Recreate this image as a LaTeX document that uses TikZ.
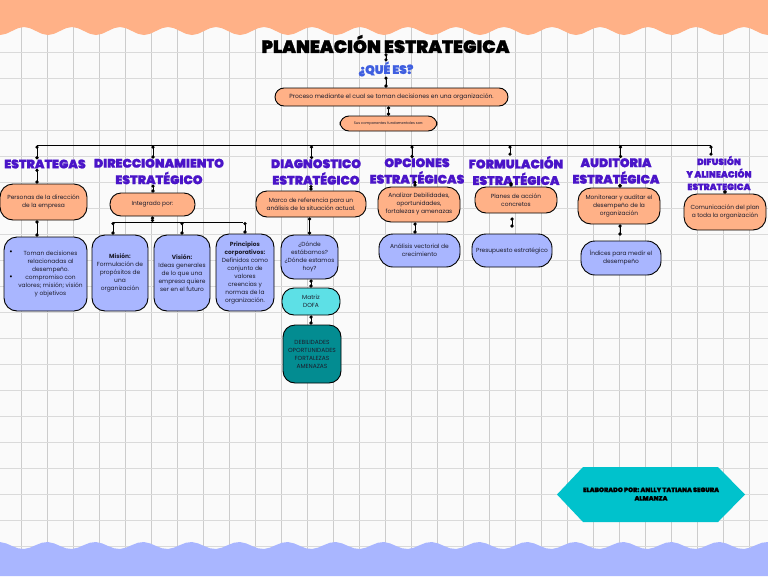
\documentclass[tikz,border=0pt]{standalone}
\usepackage{fontspec}
\usepackage{xcolor}
\setmainfont{Poppins}
\newfontfamily\heavyfont[FakeBold=1]{Poppins Black}
\usetikzlibrary{arrows.meta}

\begin{document}
\begin{tikzpicture}[x=1pt,y=-1pt,
  mynode/.style={draw=black,line width=.9,rounded corners=9,align=center,inner sep=0,font=\fontsize{5.9}{8}\selectfont,text=inkc},
  peachnode/.style={mynode,fill=peachc},
  lavnode/.style={mynode,fill=lavc,rounded corners=11},
  headnode/.style={align=center,inner sep=0,text=headc,font=\heavyfont\fontsize{12.4}{16.5}\selectfont},
  link/.style={{Circle[length=3.2pt]}-{Circle[length=3.2pt]},line width=1,black}]
\definecolor{peachc}{HTML}{FFB187}
\definecolor{lavc}{HTML}{A9B6FF}
\definecolor{headc}{HTML}{4A14C8}
\definecolor{blueh}{HTML}{3F5FE0}
\definecolor{inkc}{HTML}{1C1C2C}
\definecolor{cyanc}{HTML}{5DE0E6}
\definecolor{tealc}{HTML}{038C91}
\definecolor{hexc}{HTML}{00C2CC}
\definecolor{gridv}{HTML}{CCCCCC}
\definecolor{gridh}{HTML}{DADADA}
\useasboundingbox (0,0) rectangle (768,576);
\fill[white!98!black] (0,0) rectangle (768,576);
\foreach \gx in {0,...,28}
  {\draw[gridv,line width=.7] (21+26*\gx,0) -- (21+26*\gx,576);}
\foreach \gy in {1,...,21}
  {\draw[gridh,line width=.7] (0,26*\gy) -- (768,26*\gy);}
\fill[peachc] (0,0) -- plot[domain=0:768,samples=129] (\x,{31+4*cos(7.5*\x)}) -- (768,0) -- cycle;
\fill[lavc] (0,576) -- plot[domain=0:768,samples=129] (\x,{545.5-3.5*cos(7.5*(\x-47))}) -- (768,576) -- cycle;

\node [inner sep=0,font=\heavyfont\fontsize{17.9}{20}\selectfont] (title) at (385.5,44) {PLANEACIÓN ESTRATEGICA};
\node [inner sep=0,text=blueh,font=\heavyfont\fontsize{12.2}{14}\selectfont] (que) at (386,69) {¿QUÉ ES?};
\node [peachnode] (proc) at (391.5,97) [minimum width=233,minimum height=18,font=\fontsize{6}{8}\selectfont] {Proceso mediante el cual se toman decisiones en una organización.};
\node [peachnode] (comp) at (388.5,123.5) [minimum width=97,minimum height=15,font=\fontsize{3.6}{5}\selectfont] {Sus componentes fundamentales son:};

\foreach \nm/\cx/\cy/\txt in {estr/45/164/ESTRATEGAS,
    dire/159/171.5/{DIRECCIONAMIENTO\\ESTRATÉGICO},
    diag/316/172/{DIAGNOSTICO\\ESTRATÉGICO},
    opci/417/171/{OPCIONES\\ESTRATÉGICAS},
    form/516/170.5/{FORMULACIÓN\\ESTRATÉGICA},
    audi/616/171/{AUDITORIA\\ESTRATÉGICA}}
  {\node [headnode] (\nm) at (\cx,\cy) {\txt};}
\node [headnode,font=\heavyfont\fontsize{9}{12.5}\selectfont] (difu) at (719,173) {DIFUSIÓN\\Y ALINEACIÓN\\ESTRATEGICA};

\node [peachnode,rounded corners=13] (pers) at (43.5,202) [minimum width=87,minimum height=36] {Personas de la dirección\\de la empresa};
\node [peachnode,rounded corners=11] (inte) at (152.5,204.5) [minimum width=85,minimum height=23] {Integrado por:};
\node [peachnode,rounded corners=11] (marc) at (311,204) [minimum width=110,minimum height=26] {Marco de referencia para un\\análisis de la situación actual.};
\node [peachnode,rounded corners=13] (anal) at (419,204.5) [minimum width=82,minimum height=35] {Analizar Debilidades,\\oportunidades,\\fortalezas y amenazas};
\node [peachnode,rounded corners=11] (plan) at (516,200) [minimum width=82,minimum height=26] {Planes de acción\\concretos};
\node [peachnode,rounded corners=13] (moni) at (619,206) [minimum width=82,minimum height=36] {Monitorear y auditar el\\desempeño de la\\organización};
\node [peachnode,rounded corners=13] (comu) at (725,212) [minimum width=82,minimum height=36] {Comunicación del plan\\a toda la organización};

\node [lavnode,rounded corners=13] (toma) at (45.5,274) [minimum width=83,minimum height=74] {\begin{tabular}{@{\hspace{10pt}}c@{}}Toman decisiones\\relacionadas al\\desempeño.\\compromiso con\\valores; misión; visión\\y objetivos\end{tabular}};
\node [lavnode,rounded corners=13] (misi) at (120,273) [minimum width=56,minimum height=76] {\textbf{Misión:}\\Formulación de\\propósitos de\\una\\organización};
\node [lavnode,rounded corners=13] (visi) at (182,273) [minimum width=56,minimum height=76] {\textbf{Visión:}\\Ideas generales\\de lo que una\\empresa quiere\\ser en el futuro};
\node [lavnode,rounded corners=13] (prin) at (245,272.5) [minimum width=58,minimum height=77] {\textbf{Principios}\\\textbf{corporativos:}\\Definidos como\\conjunto de\\valores\\creencias y\\normas de la\\organización.};
\node [lavnode,rounded corners=13] (dond) at (309.5,257) [minimum width=57,minimum height=44] {¿Dónde\\estábamos?\\¿Dónde estamos\\hoy?};
\node [peachnode,fill=cyanc,rounded corners=12] (matr) at (311,301.5) [minimum width=58,minimum height=27] {Matriz\\DOFA};
\node [peachnode,fill=tealc,rounded corners=12] (debi) at (312,354) [minimum width=58,minimum height=58] {DEBILIDADES\\OPORTUNIDADES\\FORTALEZAS\\AMENAZAS};
\node [lavnode,rounded corners=14] (vect) at (419.5,250.5) [minimum width=81,minimum height=33] {Análisis vectorial de\\crecimiento};
\node [lavnode,rounded corners=14] (pres) at (512,250.5) [minimum width=80,minimum height=33] {Presupuesto estratégico};
\node [lavnode,rounded corners=14] (indi) at (621,258) [minimum width=80,minimum height=34] {Índices para medir el\\desempeño};
\node [inner sep=0,font=\fontsize{8}{8}\selectfont] (bul1) at (11,252.5) {•};
\node [inner sep=0,font=\fontsize{8}{8}\selectfont] (bul2) at (11,277.5) {•};

\fill[hexc] (557,494.5) -- (583,467) -- (718,467) -- (745,494.5) -- (718,522) -- (583,522) -- cycle;
\node [inner sep=0,align=center,font=\heavyfont\fontsize{6.35}{8.5}\selectfont] (hexa) at (651,494) {ELABORADO POR: ANLLY TATIANA SEGURA\\ALMANZA};

\coordinate (busl) at (37,145.5);
\coordinate (busr) at (711,145.5);
\draw[line width=1] (busl) -- (busr);
\draw[link] (title.south -| que) -- (que.north);
\draw[link] (que.south) -- (proc.north -| que);
\draw[link] (proc.south -| comp) -- (comp.north);
\foreach \nm/\bx in {estr/37,dire/153,diag/311.5,opci/412,form/510,audi/620.5,difu/711}
  {\coordinate (bus\nm) at (\bx,145.5);
   \draw[link] (bus\nm) -- (bus\nm |- \nm.north);}
\foreach \nm/\bx/\tg in {estr/37/pers,dire/153/inte,diag/311/marc,opci/415/anal,form/511/plan,audi/620/moni,difu/725/comu}
  {\coordinate (top\tg) at (\bx,0);
   \draw[link] (top\tg |- \nm.south) -- (top\tg |- \tg.north);}
\coordinate (intl) at (113,222);
\coordinate (intr) at (243,222);
\draw[line width=1] (intl) -- (intr);
\draw[link] (inte.south) -- (inte.south |- intl);
\draw[link] (intl) -- (intl |- misi.north);
\draw[link] (visi.north |- intl) -- (visi.north);
\draw[link] (prin.north |- intl) -- (prin.north);
\draw[link] (toppers |- pers.south) -- (toppers |- toma.north);
\draw[link] (marc.south -| dond) -- (dond.north);
\draw[link] (dond.south -| matr) -- (matr.north);
\draw[link] (matr.south) -- (debi.north -| matr);
\draw[link] (topanal |- anal.south) -- (topanal |- vect.north);
\draw[link,shorten <=4,shorten >=6] (plan.south -| pres) -- (pres.north);
\draw[link,shorten >=5] (topmoni |- moni.south) -- (topmoni |- indi.north);
\end{tikzpicture}
\end{document}
